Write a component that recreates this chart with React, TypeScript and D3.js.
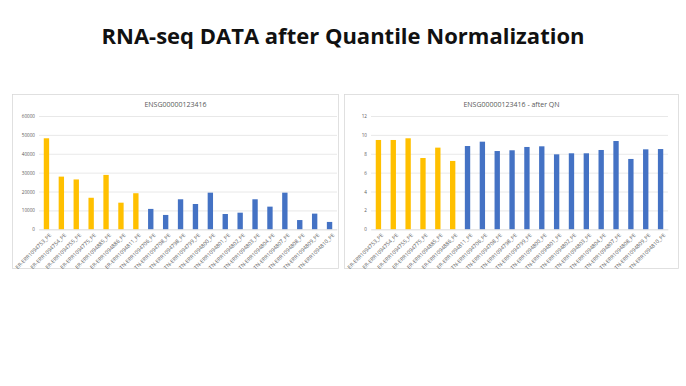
import React, { useEffect, useRef } from "react";
import * as d3 from "d3";

const sampleLabels = [
  "ER-ERR1094753_PE",
  "ER-ERR1094754_PE",
  "ER-ERR1094755_PE",
  "ER-ERR1094775_PE",
  "ER-ERR1094885_PE",
  "ER-ERR1094886_PE",
  "ER-ERR1094811_PE",
  "TN-ERR1094706_PE",
  "TN-ERR1094708_PE",
  "TN-ERR1094798_PE",
  "TN-ERR1094799_PE",
  "TN-ERR1094800_PE",
  "TN-ERR1094801_PE",
  "TN-ERR1094802_PE",
  "TN-ERR1094803_PE",
  "TN-ERR1094804_PE",
  "TN-ERR1094807_PE",
  "TN-ERR1094808_PE",
  "TN-ERR1094809_PE",
  "TN-ERR1094810_PE",
];

const rawValues = [
  48200, 27900, 26400, 16700, 28800, 14100, 19100, 10800, 7600, 15900, 13400,
  19400, 8100, 8800, 15900, 12000, 19400, 4900, 8300, 3900,
];
const rawGroups = [
  "ER", "ER", "ER", "ER", "ER", "ER", "ER",
  "TN", "TN", "TN", "TN", "TN", "TN", "TN", "TN", "TN", "TN", "TN", "TN", "TN",
];
const rawTicks = [0, 10000, 20000, 30000, 40000, 50000, 60000];

const qnValues = [
  9.46, 9.46, 9.64, 7.55, 8.65, 7.24, 8.82, 9.28, 8.29, 8.37, 8.72, 8.79, 7.94,
  8.05, 8.05, 8.4, 9.35, 7.45, 8.47, 8.5,
];
const qnGroups = [
  "ER", "ER", "ER", "ER", "ER", "ER",
  "TN", "TN", "TN", "TN", "TN", "TN", "TN", "TN", "TN", "TN", "TN", "TN", "TN", "TN",
];
const qnTicks = [0, 2, 4, 6, 8, 10, 12];

const groupColor: Record<string, string> = { ER: "#FFC000", TN: "#4472C4" };

interface BarPanelProps {
  x: number;
  y: number;
  w: number;
  h: number;
  title: string;
  values: number[];
  groups: string[];
  ticks: number[];
  plot: { left: number; right: number; top: number; bottom: number };
}

const BarPanel: React.FC<BarPanelProps> = ({ x, y, w, h, title, values, groups, ticks, plot }) => {
  const gRef = useRef<SVGGElement>(null);

  useEffect(() => {
    if (!gRef.current) return;
    const g = d3.select(gRef.current);
    g.selectAll("*").remove();

    g.append("rect")
      .attr("x", 0.5)
      .attr("y", 0.5)
      .attr("width", w - 1)
      .attr("height", h - 1)
      .attr("fill", "#fff")
      .attr("stroke", "#d9d9d9")
      .attr("stroke-width", 0.8);

    g.append("text")
      .attr("x", w / 2)
      .attr("y", 13)
      .attr("text-anchor", "middle")
      .attr("font-family", "Open Sans, sans-serif")
      .attr("font-size", 7)
      .attr("fill", "#595959")
      .text(title);

    const xScale = d3
      .scaleBand()
      .domain(sampleLabels)
      .range([plot.left, plot.right])
      .paddingInner(0.64)
      .paddingOuter(0.32);

    const yScale = d3
      .scaleLinear()
      .domain([ticks[0], ticks[ticks.length - 1]])
      .range([plot.bottom, plot.top]);

    // gridlines + tick labels
    const yAxis = g
      .append("g")
      .attr("transform", `translate(${plot.left},0)`)
      .call(
        d3
          .axisLeft(yScale)
          .tickValues(ticks)
          .tickFormat(d3.format("d"))
          .tickSize(-(plot.right - plot.left))
          .tickPadding(4)
      );
    yAxis.select(".domain").remove();
    yAxis.selectAll(".tick line").attr("stroke", "#d9d9d9").attr("stroke-width", 0.6);
    yAxis
      .selectAll(".tick text")
      .attr("font-family", "Open Sans, sans-serif")
      .attr("font-size", 4.6)
      .attr("fill", "#595959");

    g.selectAll(".bar")
      .data(values)
      .enter()
      .append("rect")
      .attr("class", "bar")
      .attr("x", (_, i) => xScale(sampleLabels[i])!)
      .attr("y", (d) => yScale(d))
      .attr("width", xScale.bandwidth())
      .attr("height", (d) => yScale(0) - yScale(d))
      .attr("fill", (_, i) => groupColor[groups[i]]);

    const xAxis = g
      .append("g")
      .attr("transform", `translate(0,${plot.bottom})`)
      .call(d3.axisBottom(xScale).tickSize(0).tickPadding(3));
    xAxis.select(".domain").attr("stroke", "#d9d9d9").attr("stroke-width", 0.6);
    xAxis
      .selectAll(".tick text")
      .attr("font-family", "Open Sans, sans-serif")
      .attr("font-size", 5.4)
      .attr("fill", "#595959")
      .attr("text-anchor", "end")
      .attr("dy", "0.3em")
      .attr("transform", "translate(2,3) rotate(-45)");
  }, [w, h, title, values, groups, ticks, plot]);

  return <g ref={gRef} transform={`translate(${x},${y})`} />;
};

export default function App() {
  return (
    <svg
      width={686}
      height={386}
      viewBox="0 0 686 386"
      style={{ position: "absolute", left: 0, top: 0, background: "#fff" }}
    >
      <text
        x={343}
        y={44}
        textAnchor="middle"
        fontFamily="Open Sans, sans-serif"
        fontWeight={700}
        fontSize={22}
        fill="#111"
      >
        RNA-seq DATA after Quantile Normalization
      </text>
      <BarPanel
        x={12}
        y={94}
        w={327}
        h={175}
        title="ENSG00000123416"
        values={rawValues}
        groups={rawGroups}
        ticks={rawTicks}
        plot={{ left: 27, right: 325, top: 22, bottom: 135.3 }}
      />
      <BarPanel
        x={344}
        y={94}
        w={335}
        h={175}
        title="ENSG00000123416 - after QN"
        values={qnValues}
        groups={qnGroups}
        ticks={qnTicks}
        plot={{ left: 27, right: 324, top: 22, bottom: 135.3 }}
      />
    </svg>
  );
}
